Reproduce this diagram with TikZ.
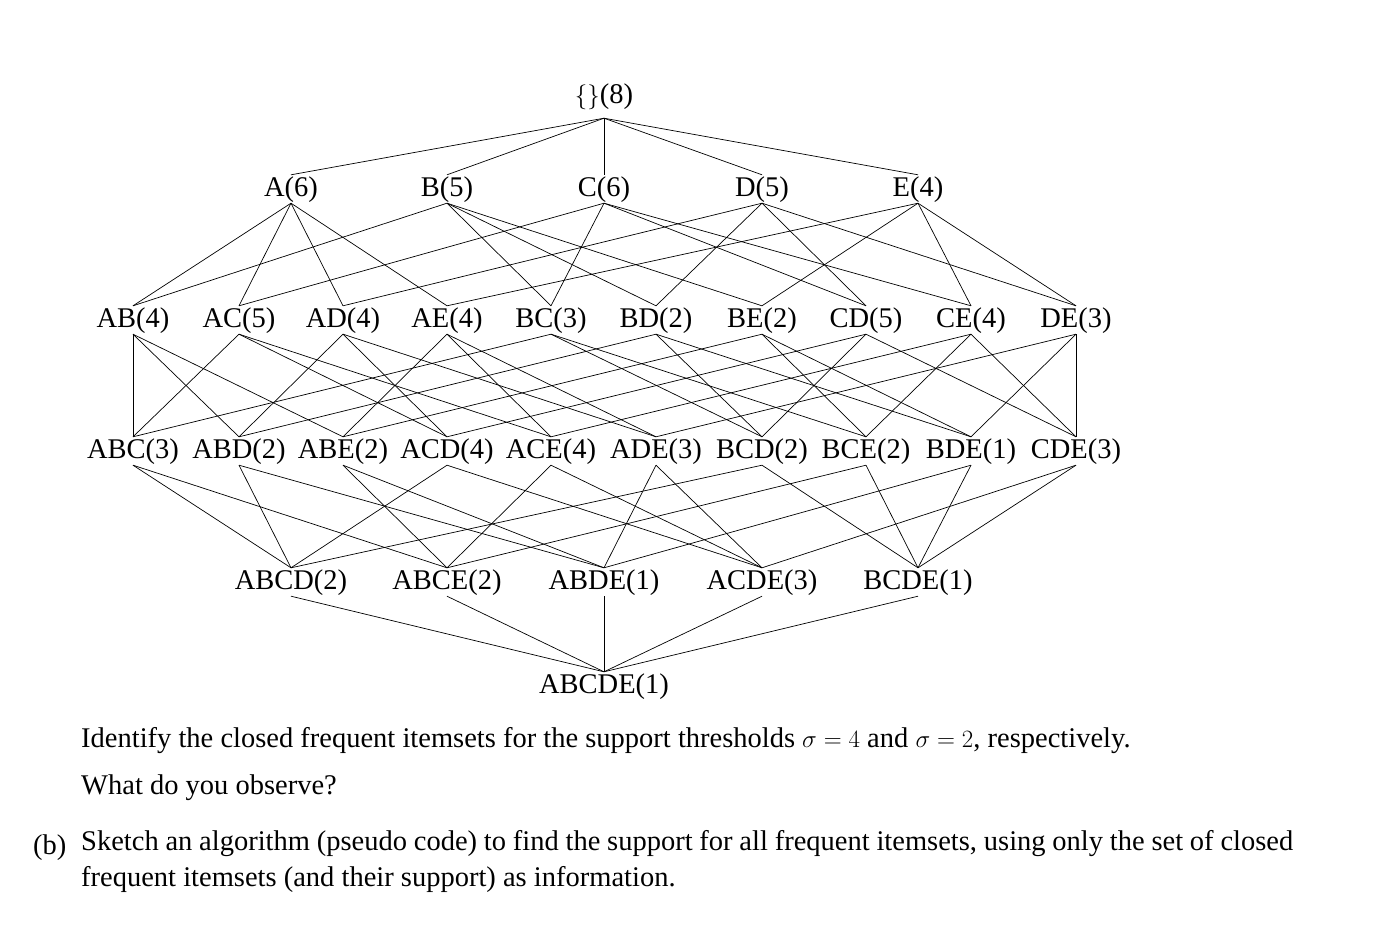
\documentclass[tikz,border=0pt]{standalone}
\usepackage{fontspec}
\setmainfont{Liberation Serif}
\begin{document}
\begin{tikzpicture}[x=1pt,y=-1pt,
  it/.style={inner xsep=1pt,inner ysep=1pt,text height=20pt,text depth=6pt,font=\fontsize{28.5}{34}\selectfont},
  ln/.style={line width=0.7pt}]
\useasboundingbox (0,0) rectangle (1378,934);
\node[it,text depth=14pt] (e) at (604,100) {$\{\}$(8)};
\foreach \n/\x/\s in {A/291/6,B/447/5,C/604/6,D/762/5,E/918/4}
  \node[it] (\n) at (\x,189) {\n(\s)};
\foreach \n/\x/\s in {AB/133/4,AC/239/5,AD/343/4,AE/447/4,BC/551/3,BD/656/2,BE/762/2,CD/866/5,CE/971/4,DE/1076/3}
  \node[it] (\n) at (\x,320) {\n(\s)};
\foreach \n/\x/\s in {ABC/133/3,ABD/239/2,ABE/343/2,ACD/447/4,ACE/551/4,ADE/656/3,BCD/762/2,BCE/866/2,BDE/971/1,CDE/1076/3}
  \node[it] (\n) at (\x,451) {\n(\s)};
\foreach \n/\x/\s in {ABCD/291/2,ABCE/447/2,ABDE/604/1,ACDE/762/3,BCDE/918/1}
  \node[it] (\n) at (\x,582) {\n(\s)};
\node[it] (ABCDE) at (604,686) {ABCDE(1)};
\foreach \n in {A,B,C,D,E} \draw[ln] (e.south)--(\n.north);
\foreach \s/\a/\b in {AB/A/B,AC/A/C,AD/A/D,AE/A/E,BC/B/C,BD/B/D,BE/B/E,CD/C/D,CE/C/E,DE/D/E}
  {\draw[ln] (\a.south)--(\s.north); \draw[ln] (\b.south)--(\s.north);}
\foreach \s/\a/\b/\c in {ABC/AB/AC/BC,ABD/AB/AD/BD,ABE/AB/AE/BE,ACD/AC/AD/CD,ACE/AC/AE/CE,ADE/AD/AE/DE,BCD/BC/BD/CD,BCE/BC/BE/CE,BDE/BD/BE/DE,CDE/CD/CE/DE}
  {\draw[ln] (\a.south)--(\s.north); \draw[ln] (\b.south)--(\s.north); \draw[ln] (\c.south)--(\s.north);}
\foreach \s/\a/\b/\c/\d in {ABCD/ABC/ABD/ACD/BCD,ABCE/ABC/ABE/ACE/BCE,ABDE/ABD/ABE/ADE/BDE,ACDE/ACD/ACE/ADE/CDE,BCDE/BCD/BCE/BDE/CDE}
  {\draw[ln] (\a.south)--(\s.north); \draw[ln] (\b.south)--(\s.north); \draw[ln] (\c.south)--(\s.north); \draw[ln] (\d.south)--(\s.north);}
\foreach \n in {ABCD,ABCE,ABDE,ACDE,BCDE} \draw[ln] (\n.south)--(ABCDE.north);
\node[anchor=west,font=\fontsize{28.5}{34}\selectfont,inner sep=0] (t1) at (81,741) {Identify the closed frequent itemsets for the support thresholds $\sigma=4$ and $\sigma=2$, respectively.};
\node[anchor=west,font=\fontsize{28.5}{34}\selectfont,inner sep=0] (t2) at (81,788) {What do you observe?};
\node[anchor=west,font=\fontsize{28.5}{34}\selectfont,inner sep=0] (t3) at (33,848) {(b)};
\node[anchor=north west,font=\fontsize{28.5}{36}\selectfont,inner sep=0,text width=1212pt,align=justify] (t4) at (81,830) {Sketch an algorithm (pseudo code) to find the support for all frequent itemsets, using only the set of closed frequent itemsets (and their support) as information.};
\end{tikzpicture}
\end{document}
